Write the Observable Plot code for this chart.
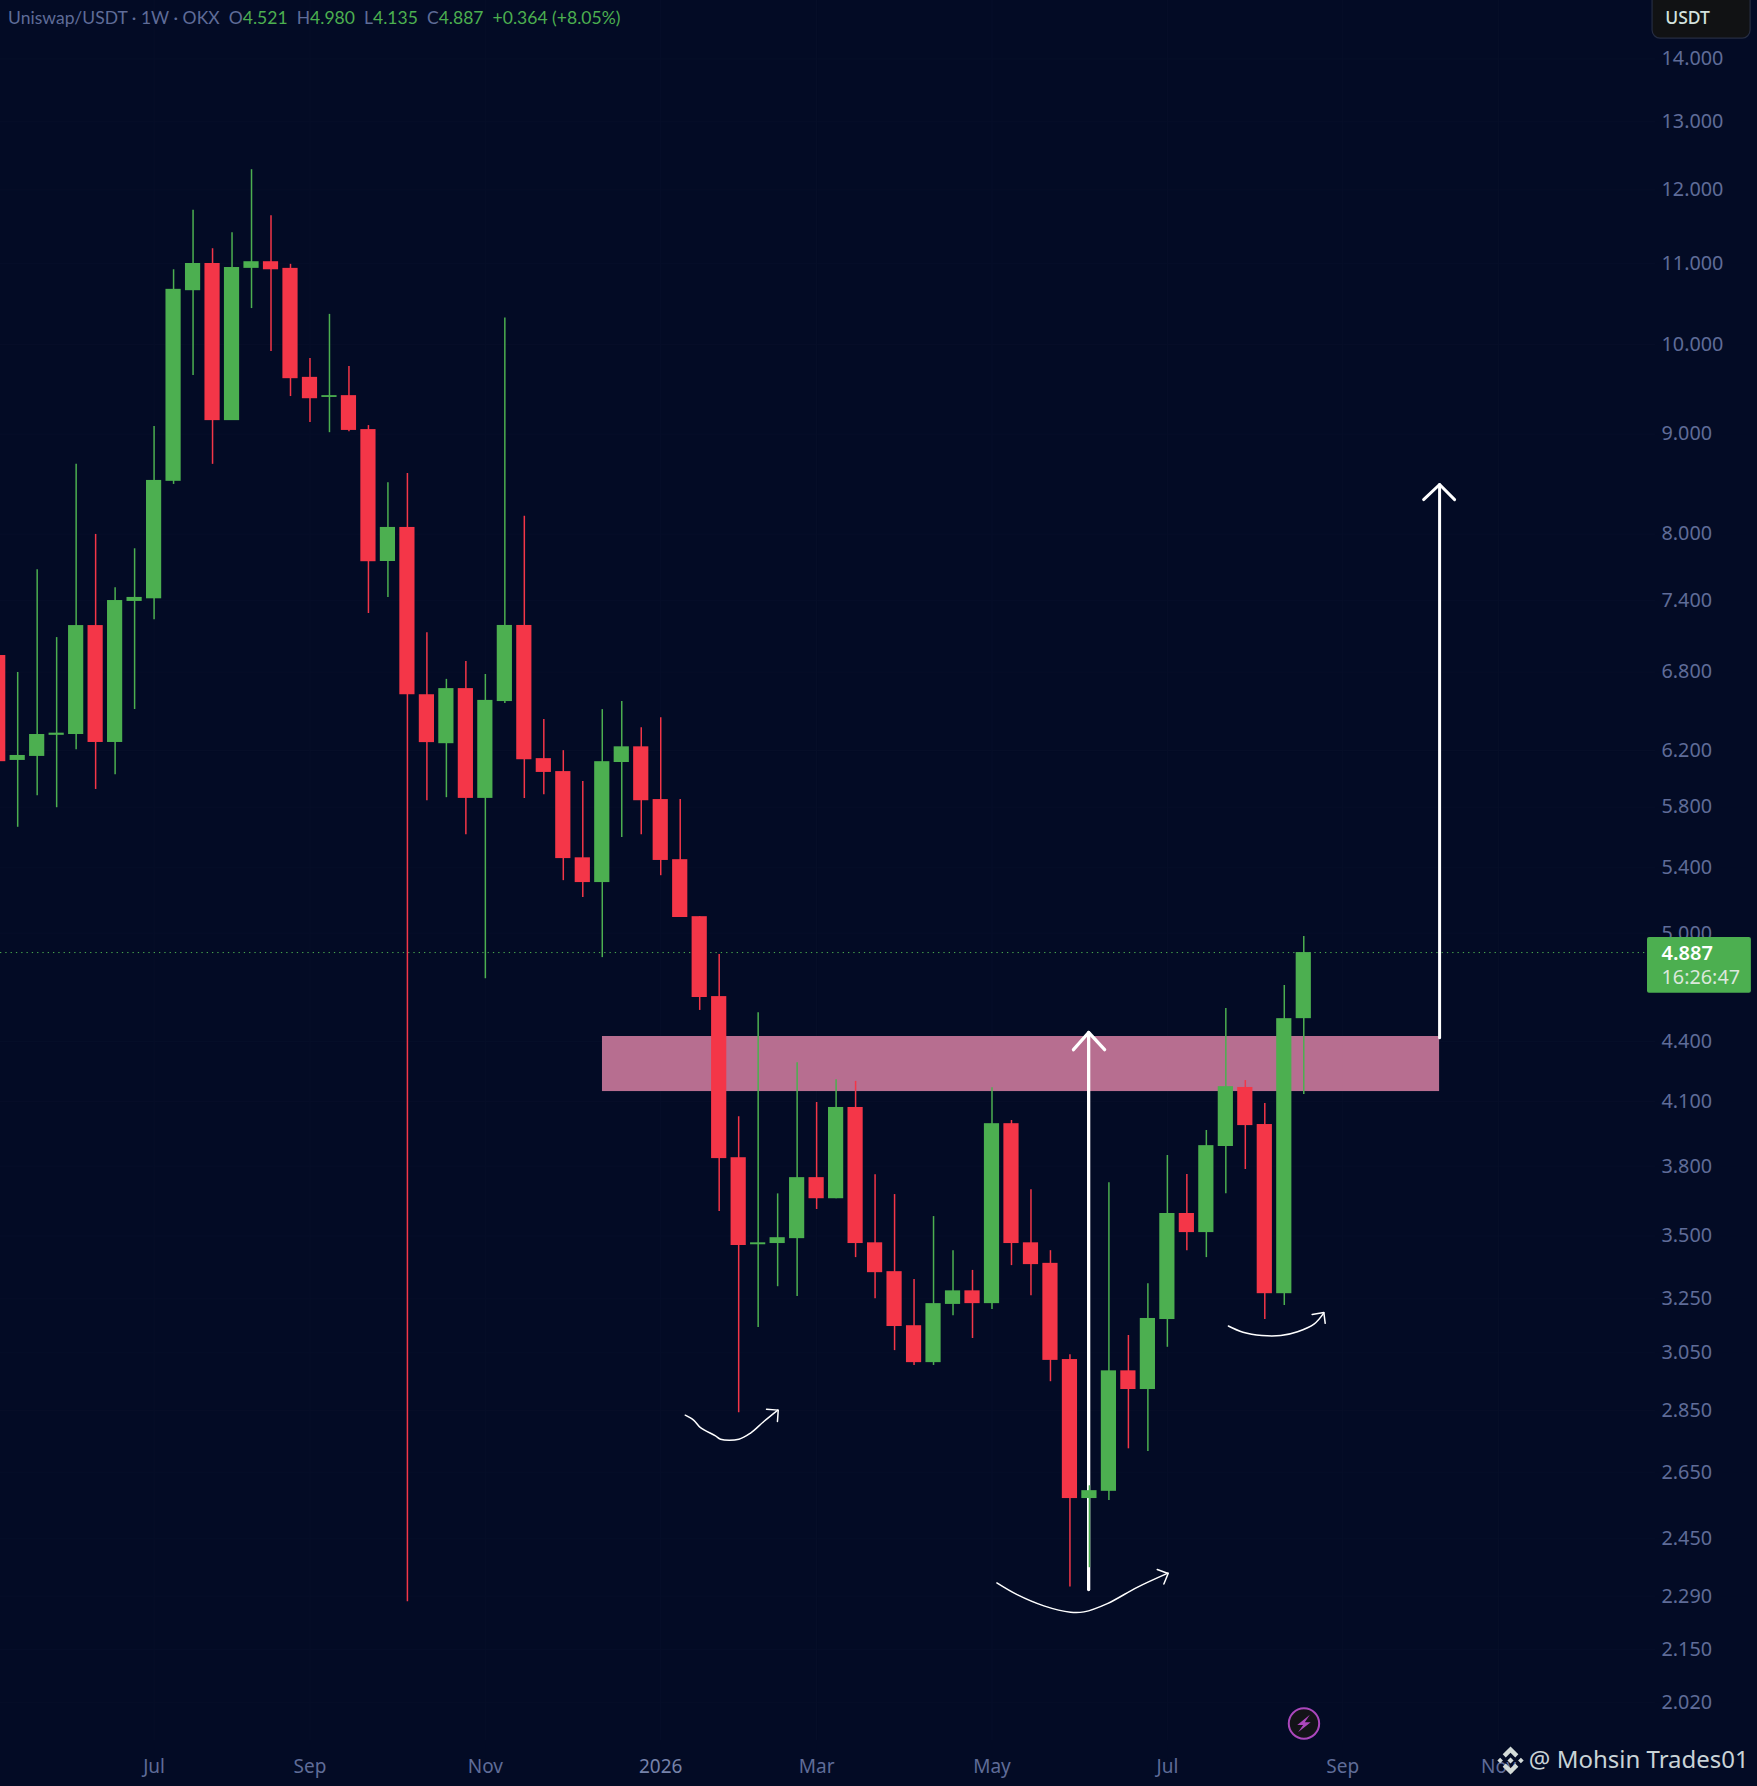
<!doctype html>
<html><head><meta charset="utf-8">
<script src="https://cdn.jsdelivr.net/npm/d3@7"></script>
<script src="https://cdn.jsdelivr.net/npm/@observablehq/plot@0.6"></script>
<style>
html,body{margin:0;background:#030b25;overflow:hidden}
#wrap{position:relative;width:1757px;height:1786px}
#legend{position:absolute;left:8px;top:6.5px;font:17.5px Lato,sans-serif;color:#5f6c98;white-space:pre;letter-spacing:.03px}
#legend b{font-weight:400;color:#4caf50}
svg{display:block}
</style></head><body>
<div id="wrap"><div id="legend">Uniswap/USDT · 1W · OKX  O<b>4.521</b>  H<b>4.980</b>  L<b>4.135</b>  C<b>4.887</b>  <b>+0.364 (+8.05%)</b></div></div>
<script>
const opens=[6.934,6.128,6.157,6.312,6.318,7.183,6.259,7.390,7.413,8.513,10.656,11.003,9.144,10.940,11.026,10.940,9.622,9.397,9.417,9.048,7.746,8.063,6.621,6.250,6.669,5.860,6.568,7.184,6.141,6.048,5.464,5.307,6.113,6.227,5.852,5.452,5.098,4.640,3.838,3.464,3.469,3.489,3.749,3.657,4.072,3.472,3.356,3.149,3.015,3.229,3.281,3.232,3.995,3.472,3.389,3.026,2.569,2.591,2.986,2.921,3.172,3.594,3.514,3.889,4.169,3.991,3.270,4.521];
const highs=[6.934,6.797,7.671,7.082,8.685,7.997,7.511,7.863,9.082,10.922,11.714,11.196,11.410,12.288,11.640,10.992,9.837,10.363,9.745,9.091,8.499,8.592,7.123,6.742,6.886,6.781,10.32,8.169,6.430,6.199,5.977,6.506,6.568,6.369,6.444,5.852,5.098,4.876,4.028,4.553,3.678,4.292,4.096,4.207,4.199,3.762,3.675,3.325,3.581,3.440,3.361,4.168,4.010,3.696,3.440,3.043,2.608,3.727,3.113,3.309,3.848,3.763,3.963,4.575,4.203,4.091,4.701,4.980];
const lows=[6.119,5.664,5.879,5.796,6.206,5.922,6.026,6.507,7.232,8.482,9.643,8.685,9.144,10.434,9.920,9.407,9.125,9.015,9.025,7.286,7.424,2.275,5.844,5.865,5.614,4.739,6.553,5.860,5.886,5.319,5.214,4.858,5.596,5.614,5.350,5.093,4.565,3.602,2.842,3.142,3.297,3.259,3.611,3.657,3.412,3.251,3.058,3.005,3.005,3.186,3.102,3.210,3.380,3.262,2.948,2.315,2.368,2.563,2.724,2.715,3.070,3.440,3.412,3.679,3.785,3.172,3.225,4.135];
const closes=[6.119,6.164,6.318,6.328,7.183,6.259,7.398,7.425,8.522,10.673,11.003,9.144,10.951,11.026,10.922,9.607,9.383,9.417,9.039,7.744,8.063,6.621,6.258,6.669,5.860,6.577,7.184,6.133,6.042,5.459,5.307,6.119,6.227,5.844,5.447,5.093,4.635,3.834,3.461,3.472,3.493,3.749,3.657,4.072,3.469,3.352,3.146,3.015,3.232,3.281,3.232,3.995,3.469,3.384,3.023,2.569,2.593,2.986,2.921,3.176,3.594,3.514,3.893,4.173,3.986,3.270,4.521,4.887];

const priceTicks=[14,13,12,11,10,9,8,7.4,6.8,6.2,5.8,5.4,5,4.4,4.1,3.8,3.5,3.25,3.05,2.85,2.65,2.45,2.29,2.15,2.02];
const timeTicks=[8,16,25,34,42,51,60,69,77];
const timeLabels=["Jul","Sep","Nov","2026","Mar","May","Jul","Sep","Nov"];

const zone={x1:31.01,x2:73.97,y1:4.149,y2:4.427};
const lastPrice=4.887;
const arrowTall={x:[73.97,73.97],y:[4.42,8.481]};
const arrowTallHead={x:[73.15,73.97,74.74],y:[8.332,8.481,8.332]};
const arrowMid={x:[55.96,55.96],y:[2.308,4.448]};
const arrowMidHead={x:[55.18,55.96,56.78],y:[4.359,4.448,4.359]};
const curveA={x:[35.26,35.70,36.04,36.81,37.07,38.01,38.61,39.29,40.01],y:[2.834,2.817,2.793,2.766,2.755,2.755,2.775,2.813,2.851]};
const curveAHead={x:[39.43,40.03,39.99],y:[2.854,2.851,2.813]};
const curveB={x:[51.25,52.29,53.66,55.03,55.72,56.92,58.45,60.03],y:[2.326,2.294,2.264,2.247,2.248,2.270,2.314,2.353]};
const curveBHead={x:[59.48,60.04,59.82],y:[2.363,2.352,2.323]};
const curveC={x:[63.13,63.88,64.85,65.82,66.68,67.54,68.03],y:[3.148,3.125,3.113,3.113,3.127,3.156,3.197]};
const curveCHead={x:[67.43,68.03,68.10],y:[3.191,3.198,3.158]};

const GREEN="#4caf50",RED="#f43648",AXIS="#5f6c98",BG="#030b25",GRID="#070f29",WHITE="#ffffff";
const candles=opens.map((o,i)=>({i,o,h:highs[i],l:lows[i],c:closes[i],col:closes[i]>=o?GREEN:RED}));
const pts=s=>s.x.map((x,k)=>({x,y:s.y[k]}));
const ln=(s,o)=>Plot.line(pts(s),{x:"x",y:"y",stroke:WHITE,strokeLinecap:"round",strokeLinejoin:"round",...o});
const poly=a=>({draw(c,size){const r=Math.sqrt(size/Math.PI);a.forEach(g=>{g.forEach(([x,y],k)=>k?c.lineTo(x*r,y*r):c.moveTo(x*r,y*r));c.closePath();});}});
const bolt=poly([[[.42,-.62],[-.48,.1],[-.06,.1],[-.42,.62],[.48,-.1],[.06,-.1]]]);
const dia=(x,y,h)=>[[x,y-h],[x+h,y],[x,y+h],[x-h,y]];
const logo=poly([[[0,-1],[.56,-.44],[.34,-.22],[0,-.56],[-.34,-.22],[-.56,-.44]],[[0,1],[.56,.44],[.34,.22],[0,.56],[-.34,.22],[-.56,.44]],dia(0,0,.22),dia(-.74,0,.2),dia(.74,0,.2)]);
const font="'Noto Sans',sans-serif";

const chart=Plot.plot({
  width:1757,height:1786,marginLeft:0,marginRight:102,marginTop:0,marginBottom:46,
  style:{background:BG,fontFamily:font},
  x:{domain:[0.118,85.05],axis:null},
  y:{type:"log",domain:[1.932,14.998],axis:null},
  marks:[
    Plot.ruleY(priceTicks,{stroke:GRID,strokeWidth:1}),
    Plot.ruleX(timeTicks,{stroke:GRID,strokeWidth:1}),
    Plot.axisY({anchor:"right",ticks:priceTicks,tickSize:0,tickPadding:6,tickFormat:d3.format(".3f"),fontSize:19.8,color:AXIS,label:null}),
    Plot.text(timeTicks.map((t,k)=>({t,s:timeLabels[k]})),{x:"t",text:"s",frameAnchor:"bottom",dy:32.5,fontSize:19,fill:d=>d.s==="2026"?"#7682aa":AXIS,fontWeight:d=>d.s==="2026"?700:400}),
    Plot.rect([zone],{x1:"x1",x2:"x2",y1:"y1",y2:"y2",fill:"#b76e90"}),
    Plot.ruleY([lastPrice],{x1:0.118,x2:84.64,stroke:GREEN,strokeWidth:1,strokeDasharray:"1.3 4"}),
    ln(arrowTall,{strokeWidth:3}),ln(arrowTallHead,{strokeWidth:3}),
    ln(arrowMid,{strokeWidth:3.3}),ln(arrowMidHead,{strokeWidth:3.3}),
    Plot.ruleX(candles,{x:"i",y1:"l",y2:"h",stroke:"col",strokeWidth:1.5}),
    Plot.rect(candles,{x1:d=>d.i-.39,x2:d=>d.i+.39,y1:"o",y2:"c",fill:"col"}),
    ln(curveA,{strokeWidth:1.5,curve:"catmull-rom"}),ln(curveAHead,{strokeWidth:1.5}),
    ln(curveB,{strokeWidth:1.5,curve:"catmull-rom"}),ln(curveBHead,{strokeWidth:1.5}),
    ln(curveC,{strokeWidth:1.5,curve:"catmull-rom"}),ln(curveCHead,{strokeWidth:1.5}),
    Plot.rect([{x1:84.64,x2:89.97,y1:4.658,y2:4.974}],{x1:"x1",x2:"x2",y1:"y1",y2:"y2",fill:GREEN,rx:2}),
    Plot.text(["4.887"],{x:85.36,y:lastPrice,dy:1,text:d=>d,textAnchor:"start",fontSize:20,fontWeight:600,fill:"#ffffff"}),
    Plot.text(["16:26:47"],{x:85.36,y:4.743,text:d=>d,textAnchor:"start",fontSize:19.8,fill:"#dbe8dc"}),
    Plot.rect([{x1:84.9,x2:89.93,y1:14.34,y2:15.4}],{x1:"x1",x2:"x2",y1:"y1",y2:"y2",fill:"#111214",stroke:"#262d42",strokeWidth:1.2,rx:8}),
    Plot.text(["USDT"],{x:85.55,y:14.68,text:d=>d,textAnchor:"start",fontSize:17.5,fontWeight:500,fill:"#d4e2de"}),
    Plot.dot([{x:67.01,y:1.971}],{x:"x",y:"y",r:15.2,fill:"#131318",stroke:"#ab47bc",strokeWidth:2}),
    Plot.dot([{x:67.01,y:1.971}],{x:"x",y:"y",r:14,symbol:bolt,fill:"#ab47bc",stroke:"none"}),
    Plot.dot([{x:77.61,y:1.887}],{x:"x",y:"y",r:14,symbol:logo,fill:"#d3dbd8",stroke:"none"}),
    Plot.text(["@ Mohsin Trades01"],{x:78.55,y:1.887,text:d=>d,textAnchor:"start",fontSize:24,letterSpacing:.2,fill:"#c9d3d7"})
  ]
});
document.getElementById("wrap").appendChild(chart);
</script></body></html>
